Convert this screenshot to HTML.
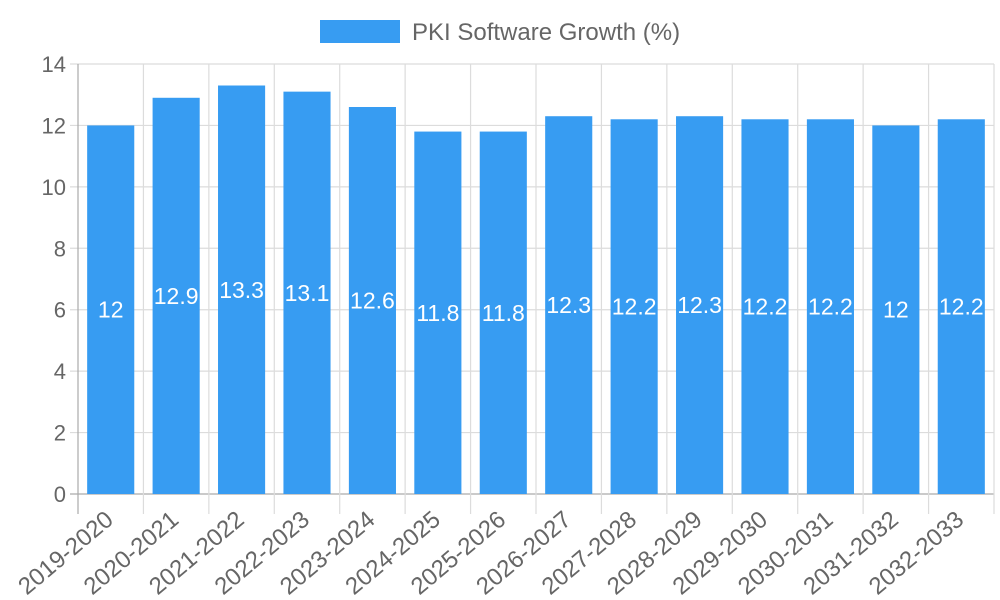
<!DOCTYPE html>
<html><head><meta charset="utf-8"><style>
html,body{margin:0;padding:0;background:#fff;}
svg{display:block;font-family:"Liberation Sans",sans-serif;}
</style></head><body>
<svg id="chart" width="1000" height="600">
<g id="legend">
<rect x="320" y="20" width="80" height="23" fill="#379cf2"/>
<text x="412" y="40" font-size="24" fill="#666">PKI Software Growth (%)</text>
</g>
<g id="grid"></g><g id="bars"></g><g id="labels"></g><g id="axes"></g>
</svg>
<script>
const categories=["2019-2020","2020-2021","2021-2022","2022-2023","2023-2024","2024-2025","2025-2026","2026-2027","2027-2028","2028-2029","2029-2030","2030-2031","2031-2032","2032-2033"];
const values=[12,12.9,13.3,13.1,12.6,11.8,11.8,12.3,12.2,12.3,12.2,12.2,12,12.2];
const yTicks=[0,2,4,6,8,10,12,14];
const NS="http://www.w3.org/2000/svg";
const L=78,R=994,T=64,B=494,yMax=14;
const cw=(R-L)/categories.length;
const y=v=>B-(v/yMax)*(B-T);
const x=i=>L+cw*i;
function mk(tag,attrs,parent,text){const e=document.createElementNS(NS,tag);for(const k in attrs)e.setAttribute(k,attrs[k]);if(text!==undefined)e.textContent=text;document.getElementById(parent).appendChild(e);return e;}
yTicks.forEach(t=>{
 const g=mk('line',{x1:L-8,x2:R,y1:y(t),y2:y(t),stroke:t===0?'#aaa':'#dcdcdc','stroke-width':1.2},'grid');
 
 
 const tx=mk('text',{x:L-12,y:y(t)+8,'text-anchor':'end','font-size':22,fill:'#666'},'axes',String(t));
 
 
});
for(let i=0;i<=categories.length;i++){
 const g=mk('line',{x1:x(i),x2:x(i),y1:T,y2:B+20,stroke:i===0?'#aaa':'#dcdcdc','stroke-width':1.2},'grid');
 
 
}
const bw=cw*0.72;
categories.forEach((c,i)=>{
 const cx=x(i)+cw/2;
 const b=mk('rect',{x:cx-bw/2,y:y(values[i]),width:bw,height:B-y(values[i]),fill:'#379cf2'},'bars');
 
 
 const lb=mk('text',{x:cx,y:(y(values[i])+B)/2+8,'text-anchor':'middle','font-size':23,fill:'#fff'},'labels',String(values[i]));
 
 
 const xl=mk('text',{x:0,y:0,'text-anchor':'end','font-size':24,fill:'#666',transform:`translate(${cx+4},${B+28}) rotate(-40)`},'axes',c);
 
 
});
</script>
</body></html>
